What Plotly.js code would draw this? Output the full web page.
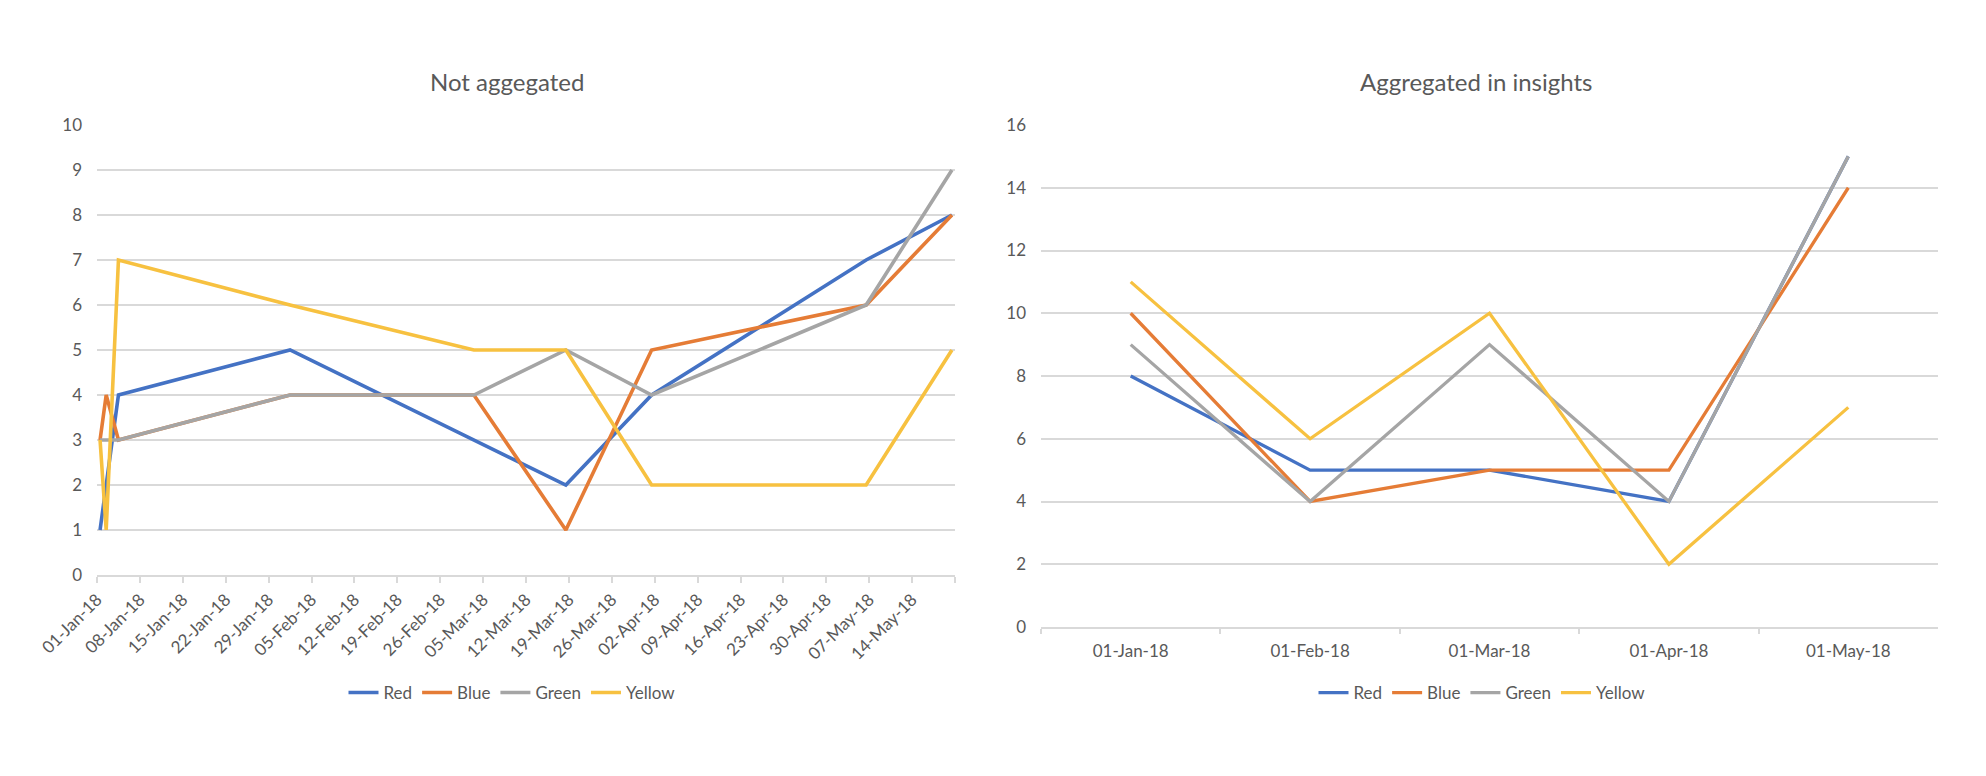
<!DOCTYPE html>
<html>
<head>
<meta charset="utf-8">
<script src="https://cdn.plot.ly/plotly-3.0.1.min.js"></script>
<style>
html,body{margin:0;padding:0;background:#fff;}
#chart{width:1986px;height:776px;}
</style>
</head>
<body>
<div id="chart"></div>
<script>
// ---- Data: not aggregated (daily entries) ----
const dates = ['2018-01-01','2018-01-02','2018-01-04','2018-02-01','2018-03-03','2018-03-18','2018-04-01','2018-05-06','2018-05-20'];
const redDaily    = [1, null, 4, 5, 3, 2, 4, 7, 8];
const blueDaily   = [3, 4, 3, 4, 4, 1, 5, 6, 8];
const greenDaily  = [3, 3, 3, 4, 4, 5, 4, 6, 9];
const yellowDaily = [3, 1, 7, 6, 5, 5, 2, 2, 5];

// ---- Data: aggregated by month ----
const months = ['01-Jan-18','01-Feb-18','01-Mar-18','01-Apr-18','01-May-18'];
const redMonthly    = [8, 5, 5, 4, 15];
const blueMonthly   = [10, 4, 5, 5, 14];
const greenMonthly  = [9, 4, 9, 4, 15];
const yellowMonthly = [11, 6, 10, 2, 7];

// ---- Tick labels of the weekly date axis ----
const weekTickDates = ['2018-01-01','2018-01-08','2018-01-15','2018-01-22','2018-01-29','2018-02-05','2018-02-12','2018-02-19','2018-02-26','2018-03-05','2018-03-12','2018-03-19','2018-03-26','2018-04-02','2018-04-09','2018-04-16','2018-04-23','2018-04-30','2018-05-07','2018-05-14','2018-05-21'];
const weekTickLabels = ['01-Jan-18','08-Jan-18','15-Jan-18','22-Jan-18','29-Jan-18','05-Feb-18','12-Feb-18','19-Feb-18','26-Feb-18','05-Mar-18','12-Mar-18','19-Mar-18','26-Mar-18','02-Apr-18','09-Apr-18','16-Apr-18','23-Apr-18','30-Apr-18','07-May-18','14-May-18',''];

const seriesNames = ['Red','Blue','Green','Yellow'];
const colors = ['#4472C4','#E57C36','#A5A5A5','#F7C140'];
const dailySeries = [redDaily, blueDaily, greenDaily, yellowDaily];
const monthlySeries = [redMonthly, blueMonthly, greenMonthly, yellowMonthly];

const W = 1986, H = 776;
const font = 'Lato, "Open Sans", sans-serif';
const txt = '#595959';
const grid = '#D9D9D9';

const traces = [];
dailySeries.forEach((s, i) => {
  traces.push({
    type: 'scatter', mode: 'lines', name: seriesNames[i],
    x: dates, y: s, xaxis: 'x', yaxis: 'y',
    xperiod: 86400000, xperiodalignment: 'middle',
    connectgaps: true,
    line: {color: colors[i], width: 3.6},
    legend: 'legend', hoverinfo: 'skip'
  });
});
monthlySeries.forEach((s, i) => {
  traces.push({
    type: 'scatter', mode: 'lines', name: seriesNames[i],
    x: months, y: s, xaxis: 'x2', yaxis: 'y2',
    line: {color: colors[i], width: 3.3},
    legend: 'legend2', hoverinfo: 'skip'
  });
});

const layout = {
  width: W, height: H,
  margin: {l: 0, r: 0, t: 0, b: 0},
  paper_bgcolor: '#fff', plot_bgcolor: '#fff',
  font: {family: font, color: txt, size: 17},
  showlegend: true,
  xaxis: {
    type: 'date', domain: [97/W, 955/W], anchor: 'y',
    range: ['2018-01-01', '2018-05-21'],
    tickmode: 'array', tickvals: weekTickDates, ticktext: weekTickLabels,
    tickangle: -45, ticks: 'outside', ticklen: 6, tickwidth: 2, tickcolor: grid,
    showline: true, linecolor: grid, linewidth: 2,
    showgrid: false, zeroline: false, automargin: false,
    tickfont: {family: font, color: txt, size: 17}, fixedrange: true
  },
  yaxis: {
    domain: [(H-575)/H, (H-125)/H], anchor: 'x',
    range: [0, 10], dtick: 1, tick0: 0,
    showgrid: true, gridcolor: grid, gridwidth: 2, zeroline: false,
    showline: false, ticks: '', ticklabelstandoff: 14,
    automargin: false, tickfont: {family: font, color: txt, size: 17}, fixedrange: true
  },
  xaxis2: {
    type: 'category', domain: [1041/W, 1938/W], anchor: 'y2',
    range: [-0.5, 4.5], tickson: 'boundaries',
    ticks: 'outside', ticklen: 5, tickwidth: 2, tickcolor: grid,
    showline: true, linecolor: grid, linewidth: 2,
    showgrid: false, zeroline: false, automargin: false, ticklabelstandoff: 8,
    tickfont: {family: font, color: txt, size: 17}, fixedrange: true
  },
  yaxis2: {
    domain: [(H-627)/H, (H-125)/H], anchor: 'x2',
    range: [0, 16], dtick: 2, tick0: 0,
    showgrid: true, gridcolor: grid, gridwidth: 2, zeroline: false,
    showline: false, ticks: '', ticklabelstandoff: 14,
    automargin: false, tickfont: {family: font, color: txt, size: 17}, fixedrange: true
  },
  legend: {
    orientation: 'h', x: 512/W, xanchor: 'center', y: (H-693)/H, yanchor: 'middle',
    font: {family: font, color: txt, size: 17}, bgcolor: 'rgba(0,0,0,0)',
    itemclick: false, itemdoubleclick: false
  },
  legend2: {
    orientation: 'h', x: 1482/W, xanchor: 'center', y: (H-693)/H, yanchor: 'middle',
    font: {family: font, color: txt, size: 17}, bgcolor: 'rgba(0,0,0,0)',
    itemclick: false, itemdoubleclick: false
  },
  annotations: [
    {text: 'Not aggegated', xref: 'paper', yref: 'paper', x: 507/W, y: (H-82)/H,
     xanchor: 'center', yanchor: 'middle', showarrow: false,
     font: {family: font, color: txt, size: 24}},
    {text: 'Aggregated in insights', xref: 'paper', yref: 'paper', x: 1476/W, y: (H-82)/H,
     xanchor: 'center', yanchor: 'middle', showarrow: false,
     font: {family: font, color: txt, size: 24}}
  ]
};

Plotly.newPlot('chart', traces, layout, {staticPlot: true, displayModeBar: false});
</script>
</body>
</html>
